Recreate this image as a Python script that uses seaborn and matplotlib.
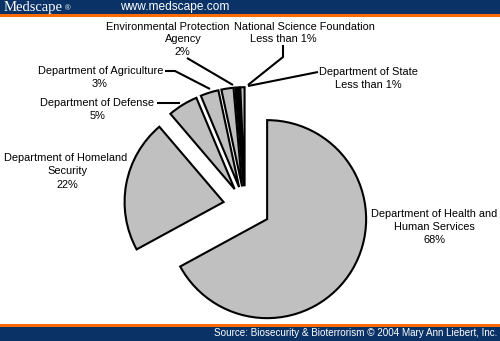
import matplotlib
matplotlib.use("Agg")
import matplotlib.pyplot as plt
import seaborn as sns
from matplotlib.patches import Rectangle

sns.set_theme(style="white")
plt.rcParams['font.family'] = ['Liberation Sans', 'DejaVu Sans']

# ---- data (counterclockwise from 12 o'clock) ----
agencies = ["Department of State", "National Science Foundation",
            "Environmental Protection Agency", "Department of Agriculture",
            "Department of Defense", "Department of Homeland Security",
            "Department of Health and Human Services"]
shares = [0.7, 0.7, 2, 3, 5, 22, 68]
pct_labels = ["Less than 1%", "Less than 1%", "2%", "3%", "5%", "22%", "68%"]
explode_frac = [0.2, 0.2, 0.2, 0.2, 0.2, 0.22, 0.26]
fills = ["#c0c0c0", "#000000", "#c0c0c0", "#c0c0c0", "#c0c0c0", "#c0c0c0", "#c0c0c0"]

W, H = 500, 341
NAVY = "#0b3266"
ORANGE = "#ff6a00"
R = 99

def Y(y):
    return H - y

fig = plt.figure(figsize=(5.0, 3.41), dpi=100)
ax = fig.add_axes([0, 0, 1, 1])

# header & footer bands
ax.add_patch(Rectangle((0, Y(14)), W, 14, color=NAVY, lw=0))
ax.add_patch(Rectangle((0, Y(16.5)), W, 2.5, color=ORANGE, lw=0))
ax.add_patch(Rectangle((0, 0), W, 14.5, color=NAVY, lw=0))
ax.add_patch(Rectangle((0, 14.5), W, 2.5, color=ORANGE, lw=0))

ax.text(4, Y(7.5), "Medscape", color="white", fontsize=10.5,
        family=["Liberation Serif", "DejaVu Serif"], va="center", ha="left")
ax.text(64.5, Y(8.5), "®", color="white", fontsize=5.5, va="center", ha="left")
ax.text(120, Y(7), "www.medscape.com", color="white", fontsize=8.6,
        va="center", ha="left")
ax.text(497, Y(333), "Source: Biosecurity & Bioterrorism \u00a9 2004 Mary Ann Liebert, Inc.",
        color="white", fontsize=7.1, va="center", ha="right")

# pie (explode given in data units)
ax.pie(shares, startangle=90, counterclock=True,
       explode=[e * R for e in explode_frac],
       colors=fills, center=(245, Y(206)), radius=R, frame=True,
       wedgeprops=dict(edgecolor="black", linewidth=1.5))
ax.set_xlim(0, W)
ax.set_ylim(0, H)
ax.axis("off")
ax.set_aspect("equal")

fs = 7.9
tk = dict(color="black", fontsize=fs, va="center", ha="center")

# labels
ax.text(168, Y(27), "Environmental Protection", **tk)
ax.text(183, Y(39.5), "Agency", **tk)
ax.text(182, Y(52), pct_labels[2], **tk)
ax.text(304, Y(27), "National Science Foundation", **tk)
ax.text(283, Y(39.5), pct_labels[1], **tk)
ax.text(368, Y(72), agencies[0], **tk)
ax.text(368, Y(84.5), pct_labels[0], **tk)
ax.text(101, Y(71), agencies[3], **tk)
ax.text(100, Y(84), pct_labels[3], **tk)
ax.text(97, Y(103), agencies[4], **tk)
ax.text(98, Y(116), pct_labels[4], **tk)
ax.text(66, Y(158), "Department of Homeland", **tk)
ax.text(67, Y(171.5), "Security", **tk)
ax.text(67, Y(185), pct_labels[5], **tk)
ax.text(434, Y(214), "Department of Health and", **tk)
ax.text(434, Y(227), "Human Services", **tk)
ax.text(434, Y(240), pct_labels[6], **tk)

# leader lines
lk = dict(color="black", lw=1.5, solid_capstyle="butt")
ax.plot([187, 233], [Y(58), Y(85)], **lk)
ax.plot([283, 283, 248], [Y(45), Y(57), Y(85)], **lk)
ax.plot([318, 248], [Y(72), Y(86)], **lk)
ax.plot([165, 175, 210], [Y(71), Y(71), Y(89)], **lk)
ax.plot([157, 180], [Y(103), Y(103)], **lk)

fig.savefig("out.png", dpi=100)
